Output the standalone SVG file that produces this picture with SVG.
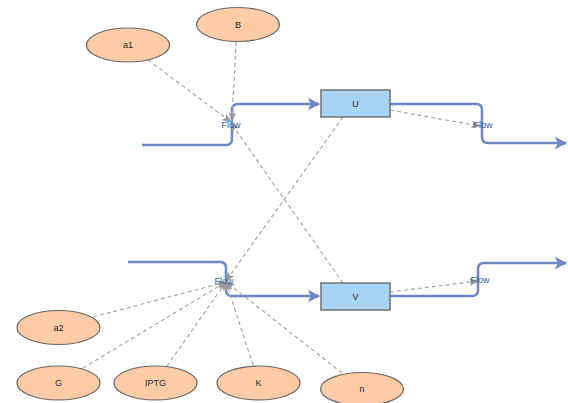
<svg xmlns="http://www.w3.org/2000/svg" width="568" height="403" viewBox="0 0 568 403">
<defs>
<style>
.sp{fill:#fdcba5;stroke:#666;stroke-width:1.2}
.rx{fill:#a8d4f6;stroke:#707070;stroke-width:1.5}
.t{font-family:"Comic Sans MS","Liberation Sans",sans-serif;font-size:9px;fill:#222;text-anchor:middle}
.fl{font-family:"Liberation Sans",sans-serif;font-size:9px;fill:#3d5a98;text-anchor:middle}
.flow{fill:none;stroke:#6a89c6;stroke-width:2.5}
.mod{fill:none;stroke:#a6a6a6;stroke-width:1.2;stroke-dasharray:4,3}
</style>
<marker id="ah" viewBox="0 0 10 10" refX="9" refY="5" markerWidth="5" markerHeight="5" orient="auto" markerUnits="strokeWidth">
<path d="M0,0 L10,5 L0,10 L2.5,5 Z" fill="#6a89c6"/>
</marker>
<marker id="mh" viewBox="0 0 10 10" refX="9" refY="5" markerWidth="8" markerHeight="8" orient="auto" markerUnits="strokeWidth">
<path d="M0,1 L10,5 L0,9 L2,5 Z" fill="#999"/>
</marker>
</defs>
<rect width="568" height="403" fill="#fff"/>
<g id="connectors">
<path class="flow" d="M142,145 H226 Q232,145 232,139 V110 Q232,104 238,104 H319" marker-end="url(#ah)"/>
<path class="flow" d="M390,104 H476 Q482,104 482,110 V137 Q482,143 488,143 H566" marker-end="url(#ah)"/>
<path class="flow" d="M128,262 H220 Q226,262 226,268 V290 Q226,296 232,296 H319" marker-end="url(#ah)"/>
<path class="flow" d="M390,296 H472 Q478,296 478,290 V269 Q478,263 484,263 H566" marker-end="url(#ah)"/>
<line class="mod" x1="148" y1="60" x2="231" y2="122" marker-end="url(#mh)"/>
<line class="mod" x1="236" y1="42" x2="232" y2="121" marker-end="url(#mh)"/>
<line class="mod" x1="343" y1="283" x2="231" y2="123" marker-end="url(#mh)"/>
<line class="mod" x1="390" y1="110" x2="480" y2="126" marker-end="url(#mh)"/>
<line class="mod" x1="343" y1="117" x2="226" y2="281" marker-end="url(#mh)"/>
<line class="mod" x1="390" y1="292" x2="478" y2="281" marker-end="url(#mh)"/>
<line class="mod" x1="93" y1="317" x2="226" y2="282" marker-end="url(#mh)"/>
<line class="mod" x1="83" y1="368" x2="226" y2="282" marker-end="url(#mh)"/>
<line class="mod" x1="167" y1="366" x2="226" y2="282" marker-end="url(#mh)"/>
<line class="mod" x1="253" y1="365" x2="226" y2="282" marker-end="url(#mh)"/>
<line class="mod" x1="342" y1="373" x2="226" y2="282" marker-end="url(#mh)"/>
</g>
<g id="flow-labels">
<text class="fl" x="231" y="128">Flow</text>
<text class="fl" x="483" y="128">Flow</text>
<text class="fl" x="224" y="284">Flow</text>
<text class="fl" x="480" y="283">Flow</text>
</g>
<g id="U"><rect class="rx" x="321" y="90" width="69" height="27"/><text class="t" x="355.5" y="107">U</text></g>
<g id="V"><rect class="rx" x="321" y="283" width="69" height="27"/><text class="t" x="355.5" y="300">V</text></g>
<g id="a1"><ellipse class="sp" cx="128" cy="45" rx="41.5" ry="17"/><text class="t" x="128" y="48">a1</text></g>
<g id="B"><ellipse class="sp" cx="238" cy="24.5" rx="41.5" ry="17"/><text class="t" x="238" y="27.5">B</text></g>
<g id="a2"><ellipse class="sp" cx="58.5" cy="327.5" rx="41.5" ry="17"/><text class="t" x="58.5" y="330.5">a2</text></g>
<g id="G"><ellipse class="sp" cx="58.5" cy="383" rx="41.5" ry="17"/><text class="t" x="58.5" y="386">G</text></g>
<g id="IPTG"><ellipse class="sp" cx="155.5" cy="383" rx="41.5" ry="17"/><text class="t" x="155.5" y="386">IPTG</text></g>
<g id="K"><ellipse class="sp" cx="258.5" cy="383" rx="41.5" ry="17"/><text class="t" x="258.5" y="386">K</text></g>
<g id="n"><ellipse class="sp" cx="362" cy="389" rx="41.5" ry="16.5"/><text class="t" x="362" y="392">n</text></g>
</svg>
